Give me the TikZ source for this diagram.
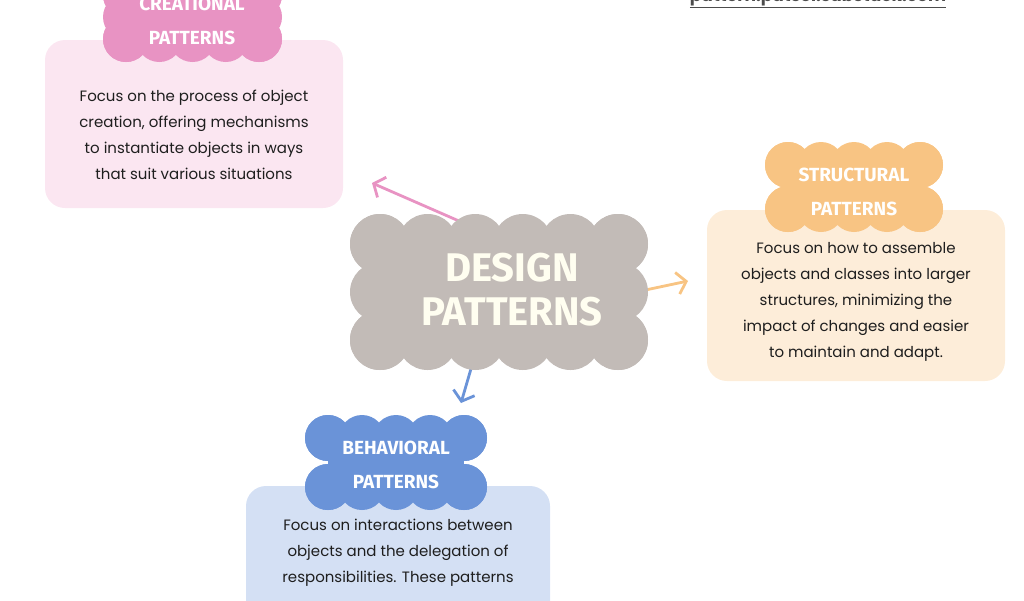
\documentclass[tikz,border=0pt]{standalone}
\usepackage{fontspec}
\setmainfont{Poppins}
\newfontfamily\headf{Fira Sans}
\usetikzlibrary{arrows.meta}
\definecolor{pinkc}{HTML}{E893C3}
\definecolor{pinkb}{HTML}{FBE6F1}
\definecolor{orac}{HTML}{F8C483}
\definecolor{orab}{HTML}{FDEDD9}
\definecolor{bluec}{HTML}{6A93D8}
\definecolor{blueb}{HTML}{D4E0F4}
\definecolor{grayc}{HTML}{C2BBB7}
\definecolor{txt}{HTML}{1E1E1E}
\newcommand\mycloud[8]{%
  \fill[#8] (#1+#5,#2+#5) rectangle (#3-#5,#4-#5);
  \foreach \i in {0,...,#6}{%
    \pgfmathsetmacro\xx{#1+#5+\i*(#3-#1-2*#5)/#6}
    \fill[#8] (\xx,#2+#5) circle[radius=#5pt];
    \fill[#8] (\xx,#4-#5) circle[radius=#5pt];}
  \foreach \j in {0,...,#7}{%
    \pgfmathsetmacro\yy{#2+#5+\j*(#4-#2-2*#5)/#7}
    \fill[#8] (#1+#5,\yy) circle[radius=#5pt];
    \fill[#8] (#3-#5,\yy) circle[radius=#5pt];}
}
\tikzset{
  box/.style={rounded corners=20pt},
  body/.style={align=center,font=\fontsize{15}{26}\selectfont,text=txt},
  head/.style={align=center,font=\headf\bfseries\fontsize{19}{34}\selectfont,text=white},
  arr/.style={line width=2.8pt,line cap=round,-{Straight Barb[length=9pt,width=22pt,line width=2.8pt]}}
}
\begin{document}
\begin{tikzpicture}[x=1pt,y=-1pt]
\useasboundingbox (0,0) rectangle (1024,600);
\clip (0,0) rectangle (1024,600);
% boxes
\fill[pinkb,box] (45,40) rectangle (343,208);
\fill[orab,box] (707,210) rectangle (1005,381);
\fill[blueb,box] (246,486) rectangle (550,640);
% arrows
\coordinate (pa) at (475,228); \coordinate (pb) at (372,183);
\coordinate (oa) at (636,292); \coordinate (ob) at (688,281);
\coordinate (ba) at (475,355); \coordinate (bb) at (461,403);
\draw[arr,pinkc] (pa) -- (pb);
\draw[arr,orac] (oa) -- (ob);
\draw[arr,bluec] (ba) -- (bb);
% clouds
\mycloud{103}{-28}{282}{62}{23}{4}{2}{pinkc}
\mycloud{765}{142}{943}{232}{23}{4}{1}{orac}
\mycloud{305}{415}{487}{510}{23}{4}{1}{bluec}
\mycloud{350}{214}{648}{370}{30}{5}{2}{grayc}
% texts
\node[head] (ch) at (192,21) {CREATIONAL\\PATTERNS};
\node[head] (sh) at (854,192) {STRUCTURAL\\PATTERNS};
\node[head] (bh) at (396,465) {BEHAVIORAL\\PATTERNS};
\node[head,text=white!94!yellow,font=\headf\bfseries\fontsize{40}{44}\selectfont] (dp) at (512,290) {DESIGN\\PATTERNS};
\node[body] (cb) at (194,135) {Focus on the process of object\\creation, offering mechanisms\\to instantiate objects in ways\\that suit various situations};
\node[body] (sb) at (856,302) {Focus on how to assemble\\objects and classes into larger\\structures, minimizing the\\impact of changes and easier\\to maintain and adapt.};
\node[body,anchor=north] (bb2) at (398,516) {Focus on interactions between\\objects and the delegation of\\responsibilities. These patterns};
\node[font=\bfseries\fontsize{17}{17}\selectfont,text=black!70,inner sep=0pt] (url) at (818,-2) {\underline{pattern.patsol.substack.com}};
\end{tikzpicture}
\end{document}
